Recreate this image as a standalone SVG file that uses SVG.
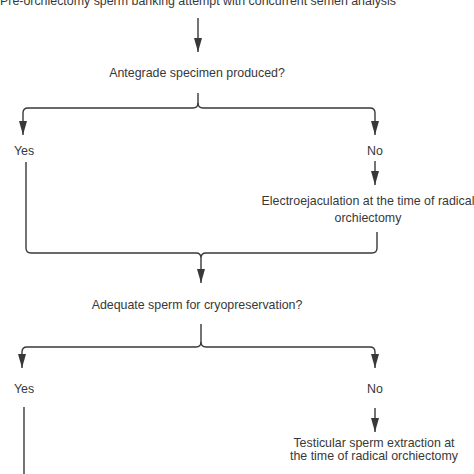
<svg xmlns="http://www.w3.org/2000/svg" width="474" height="474" viewBox="0 0 474 474">
<style>
text{font-family:"Liberation Sans",Arial,sans-serif;font-size:12.4px;fill:#383838;text-anchor:middle}
.c{fill:none;stroke:#383838;stroke-width:1.4}
</style>
<defs>
<marker id="ah" viewBox="0 0 14 8" refX="14" refY="4" markerWidth="14" markerHeight="8" markerUnits="userSpaceOnUse" orient="auto">
<path d="M0,0 L14,4 L0,8 z" fill="#383838"/>
</marker>
</defs>
<rect width="474" height="474" fill="#fff"/>
<g id="connectors">
<path class="c" d="M198,18 L198,52" marker-end="url(#ah)"/>
<path class="c" d="M198,93 L198,103 Q198,108 193,108 L28,108 Q23,108 23,113 L23,135" marker-end="url(#ah)"/>
<path class="c" d="M198,103 Q198,108 203,108 L370,108 Q375,108 375,113 L375,135" marker-end="url(#ah)"/>
<path class="c" d="M375,161 L375,185" marker-end="url(#ah)"/>
<path class="c" d="M26,162 L26,248 Q26,253 31,253 L196,253 Q201,253 201,258 Q201,253 206,253 L372,253 Q377,253 377,248 L377,232"/>
<path class="c" d="M201,258 L201,283" marker-end="url(#ah)"/>
<path class="c" d="M201,324 L201,342 Q201,347 196,347 L27,347 Q22,347 22,352 L22,368" marker-end="url(#ah)"/>
<path class="c" d="M201,342 Q201,347 206,347 L370,347 Q375,347 375,352 L375,368" marker-end="url(#ah)"/>
<path class="c" d="M375,408 L375,432" marker-end="url(#ah)"/>
<path class="c" d="M24,407 L24,474"/>
</g>
<g id="n-start"><text x="198" y="5">Pre-orchiectomy sperm banking attempt with concurrent semen analysis</text></g>
<g id="n-antegrade"><text x="197" y="77">Antegrade specimen produced?</text></g>
<g id="n-yes1"><text x="24" y="155">Yes</text></g>
<g id="n-no1"><text x="375" y="155">No</text></g>
<g id="n-electro"><text x="368" y="205">Electroejaculation at the time of radical</text><text x="368" y="222">orchiectomy</text></g>
<g id="n-adequate"><text x="197" y="309">Adequate sperm for cryopreservation?</text></g>
<g id="n-yes2"><text x="24" y="393">Yes</text></g>
<g id="n-no2"><text x="375" y="393">No</text></g>
<g id="n-tese"><text x="374" y="447">Testicular sperm extraction at</text><text x="374" y="460">the time of radical orchiectomy</text></g>
</svg>
